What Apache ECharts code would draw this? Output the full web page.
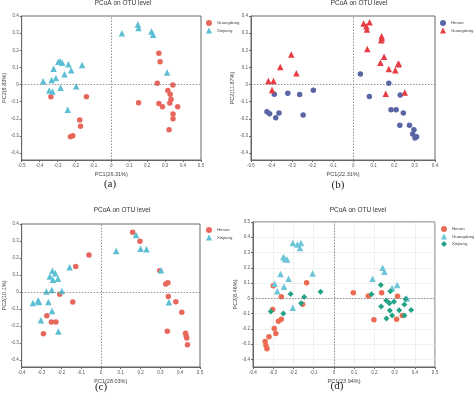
<!DOCTYPE html>
<html><head><meta charset="utf-8">
<script src="https://cdn.jsdelivr.net/npm/echarts@6/dist/echarts.min.js"></script>
<style>html,body{margin:0;padding:0;background:#fff}#c{width:474px;height:395px}</style>
</head><body><div id="c"></div>
<script>
// Panel (a)
const aGuangdong = [[-0.337,-0.071],[-0.139,-0.071],[-0.176,-0.206],[-0.172,-0.243],[-0.228,-0.305],[-0.215,-0.299],[0.265,0.182],[0.272,0.133],[0.256,0.008],[0.343,-0.002],[0.315,-0.035],[0.328,-0.056],[0.333,-0.085],[0.326,-0.108],[0.152,-0.106],[0.265,-0.11],[0.285,-0.129],[0.37,-0.129],[0.344,-0.172],[0.344,-0.199],[0.322,-0.264]];
const aXinjiang = [[0.059,0.30],[0.148,0.35],[0.152,0.33],[0.224,0.31],[0.233,0.29],[0.311,0.07],[-0.38,0.02],[-0.333,0.027],[-0.322,0.093],[-0.309,0.039],[-0.296,0.133],[-0.285,0.135],[-0.274,0.128],[-0.261,0.06],[-0.239,0.118],[-0.224,0.083],[-0.163,0.114],[-0.196,-0.01],[-0.283,-0.019],[-0.346,-0.035],[-0.328,-0.04],[-0.243,-0.147]];
// Panel (b)
const bHenan = [[0.035,0.062],[0.174,0.008],[0.079,-0.07],[0.23,-0.061],[0.185,-0.147],[0.21,-0.147],[0.245,-0.166],[0.228,-0.238],[0.275,-0.238],[0.297,-0.264],[0.291,-0.288],[0.302,-0.311],[0.31,-0.305],[-0.386,-0.056],[-0.32,-0.05],[-0.262,-0.058],[-0.195,-0.033],[-0.422,-0.158],[-0.409,-0.17],[-0.363,-0.166],[-0.379,-0.193],[-0.245,-0.177]];
const bGuangdong = [[-0.415,0.021],[-0.39,0.021],[-0.397,-0.031],[-0.357,0.103],[-0.303,0.176],[-0.278,0.066],[0.051,0.356],[0.064,0.34],[0.08,0.363],[0.067,0.321],[0.139,0.282],[0.137,0.259],[0.14,0.27],[0.069,0.207],[0.151,0.162],[0.133,0.128],[0.174,0.091],[0.223,0.122],[0.219,0.118],[0.206,0.083],[0.159,-0.054],[0.252,-0.046]];
// Panel (c)
const cHenan = [[0.16,0.351],[0.197,0.299],[-0.06,0.218],[-0.127,0.151],[-0.208,-0.012],[-0.142,-0.058],[-0.273,-0.139],[-0.25,-0.175],[-0.227,-0.175],[-0.29,-0.244],[0.297,0.125],[0.327,0.048],[0.338,0.055],[0.34,-0.026],[0.378,-0.056],[0.408,-0.119],[0.335,-0.23],[0.427,-0.242],[0.43,-0.258],[0.433,-0.27],[0.437,-0.31]];
const cXinjiang = [[0.177,0.335],[0.077,0.242],[0.2,0.254],[0.23,0.252],[0.303,0.129],[0.343,-0.06],[-0.158,0.146],[-0.245,0.125],[-0.23,0.111],[-0.258,0.091],[-0.217,0.079],[-0.242,0.073],[-0.275,0.004],[-0.248,0.012],[-0.197,0.006],[-0.343,-0.064],[-0.317,-0.05],[-0.312,-0.058],[-0.265,-0.058],[-0.247,-0.111],[-0.303,-0.165],[-0.215,-0.232]];
// Panel (d)
const dHenan = [[-0.3,0.083],[-0.26,0.011],[-0.135,0.102],[-0.155,-0.039],[-0.303,-0.074],[-0.26,-0.137],[-0.274,-0.15],[-0.295,-0.198],[-0.287,-0.23],[-0.321,-0.252],[-0.34,-0.283],[-0.336,-0.309],[-0.331,-0.33],[0.096,0.037],[0.17,0.015],[0.236,0.037],[0.198,-0.141],[0.315,0.013],[0.31,-0.137],[0.338,-0.113]];
const dGuangdong = [[-0.203,0.363],[-0.181,0.352],[-0.163,0.363],[-0.168,0.33],[-0.25,0.27],[-0.242,0.257],[-0.231,0.254],[-0.264,0.159],[-0.293,0.096],[-0.224,0.128],[-0.247,0.076],[-0.28,0.046],[-0.105,0.163],[-0.203,-0.061],[0.241,0.2],[0.25,0.174],[0.191,0.128],[0.288,0.067],[0.313,0.087],[0.361,-0.002]];
const dXinjiang = [[-0.214,0.028],[-0.147,0.009],[-0.066,0.043],[-0.162,-0.033],[-0.312,-0.087],[-0.25,-0.1],[0.232,0.087],[0.186,0.026],[0.279,0.046],[0.234,-0.054],[0.259,-0.015],[0.274,-0.033],[0.297,-0.022],[0.277,-0.08],[0.323,-0.078],[0.288,-0.113],[0.26,-0.133],[0.349,-0.041],[0.349,-0.113],[0.382,-0.076],[0.354,-0.004]];

const titles = ['PCoA on OTU level','PCoA on OTU level','PCoA on OTU level','PCoA on OTU level'];
const panelTags = ['(a)','(b)','(c)','(d)'];
const xNames = ['PC1(26.31%)','PC1(22.31%)','PC1(28.03%)','PC1(23.94%)'];
const yNames = ['PC2(8.83%)','PC2(11.87%)','PC2(10.1%)','PC2(8.46%)'];
const xTicksA = [-0.5,-0.4,-0.3,-0.2,-0.1,0,0.1,0.2,0.3,0.4,0.5];
const xTicksB = [-0.5,-0.4,-0.3,-0.2,-0.1,0,0.1,0.2,0.3,0.4];
const xTicksCD = [-0.4,-0.3,-0.2,-0.1,0,0.1,0.2,0.3,0.4,0.5];
const yTicksABC = [-0.4,-0.3,-0.2,-0.1,0,0.1,0.2,0.3,0.4];
const yTicksD = [-0.4,-0.3,-0.2,-0.1,0,0.1,0.2,0.3,0.4,0.5];

const FONT = 'Liberation Sans';
const grids = [
  {left:20, top:16, width:181, height:144},
  {left:251, top:16, width:184, height:144},
  {left:20, top:224, width:180, height:143},
  {left:253, top:222, width:182, height:145}
];
const xr = [[-0.5,0.5],[-0.5,0.4],[-0.4,0.5],[-0.4,0.5]];
const yr = [[-0.44,0.4],[-0.44,0.4],[-0.44,0.4],[-0.45,0.5]];
const xt = [xTicksA, xTicksB, xTicksCD, xTicksCD];
const yt = [yTicksABC, yTicksABC, yTicksABC, yTicksD];
const fmt = v => (Math.abs(v) < 1e-9 ? '0' : (+v.toFixed(1)).toString());

const xAxis = [], yAxis = [];
for (let i = 0; i < 4; i++) {
  const showSplit = i === 3;
  xAxis.push({type:'value', gridIndex:i, min:xr[i][0], max:xr[i][1],
    name:xNames[i], nameLocation:'middle', nameGap:11,
    nameTextStyle:{fontSize:5.5, color:'#444', fontFamily:FONT},
    axisLine:{onZero:false, lineStyle:{color:'#666', width:1}},
    axisTick:{show:true, length:2, customValues:xt[i], lineStyle:{color:'#666'}},
    axisLabel:{fontSize:4.5, color:'#555', margin:3, fontFamily:FONT, customValues:xt[i], formatter:fmt},
    splitLine:{show:showSplit, lineStyle:{color:'#e6e6e6', width:0.6}}});
  yAxis.push({type:'value', gridIndex:i, min:yr[i][0], max:yr[i][1],
    name:yNames[i], nameLocation:'middle', nameGap:i===1?16:14, nameRotate:90,
    nameTextStyle:{fontSize:5.5, color:'#444', fontFamily:FONT},
    axisLine:{onZero:false, lineStyle:{color:'#666', width:1}},
    axisTick:{show:true, length:2, customValues:yt[i], lineStyle:{color:'#666'}},
    axisLabel:{fontSize:4.5, color:'#555', margin:3, fontFamily:FONT, customValues:yt[i], formatter:fmt},
    splitLine:{show:showSplit, lineStyle:{color:'#e6e6e6', width:0.6}}});
}

const zeroLines = {silent:true, symbol:'none', label:{show:false},
  lineStyle:{type:[1.5,1.5], color:'#777', width:0.8}, data:[{xAxis:0},{yAxis:0}]};

function sc(name, data, gi, symbol, color, size, withZero) {
  const s = {type:'scatter', name:name, xAxisIndex:gi, yAxisIndex:gi, data:data,
    symbol:symbol, symbolSize:size, itemStyle:{color:color, opacity:1}, z:3};
  if (withZero) s.markLine = zeroLines;
  return s;
}
const ZW = '\u200b';
const cRed = '#e8675d', cCyan = '#5cbfd3';
const series = [
  sc('Guangdong', aGuangdong, 0, 'circle', cRed, 5.5, true),
  sc('Xinjiang', aXinjiang, 0, 'triangle', cCyan, 6.5, false),
  sc('Henan', bHenan, 1, 'circle', '#5a65a5', 5.5, true),
  sc('Guangdong'+ZW, bGuangdong, 1, 'triangle', '#e63d44', 6.5, false),
  sc('Henan'+ZW, cHenan, 2, 'circle', cRed, 5.5, true),
  sc('Xinjiang'+ZW, cXinjiang, 2, 'triangle', cCyan, 6.5, false),
  sc('Henan'+ZW+ZW, dHenan, 3, 'circle', '#ec6b52', 5.5, true),
  sc('Guangdong'+ZW+ZW, dGuangdong, 3, 'triangle', '#6cc6d7', 6.5, false),
  sc('Xinjiang'+ZW+ZW, dXinjiang, 3, 'diamond', '#22a386', 6, false)
];

const legTxt = {fontSize:4.3, color:'#444', fontFamily:FONT};
function leg(names, left, top) {
  return {data:names, orient:'vertical', left:left, top:top, itemWidth:6, itemHeight:6,
    itemGap:1.5, textStyle:legTxt, padding:0, selectedMode:false};
}
const legend = [
  leg(['Guangdong','Xinjiang'], 206, 20),
  leg(['Henan','Guangdong'+ZW], 440, 20),
  leg(['Henan'+ZW,'Xinjiang'+ZW], 206, 227),
  leg(['Henan'+ZW+ZW,'Guangdong'+ZW+ZW,'Xinjiang'+ZW+ZW], 441, 226)
];

const tPos = [[123,0],[359,0],[122,207],[358,207]];
const tagPos = [[110,179],[338,180],[101,382],[337,381]];
const title = [];
for (let i = 0; i < 4; i++) {
  title.push({text:titles[i], left:tPos[i][0], top:tPos[i][1], textAlign:'center', padding:0,
    textStyle:{fontSize:6.5, fontWeight:'normal', color:'#333', fontFamily:FONT}});
  title.push({text:panelTags[i], left:tagPos[i][0], top:tagPos[i][1], textAlign:'center', padding:0,
    textStyle:{fontSize:11, fontWeight:'normal', color:'#222', fontFamily:'Liberation Serif'}});
}

const grid = grids.map(g => Object.assign({show:true, borderColor:'#666', borderWidth:1, containLabel:false}, g));

const chart = echarts.init(document.getElementById('c'), null, {renderer:'canvas'});
chart.setOption({animation:false, backgroundColor:'#fff', title, legend, grid, xAxis, yAxis, series});
</script></body></html>
